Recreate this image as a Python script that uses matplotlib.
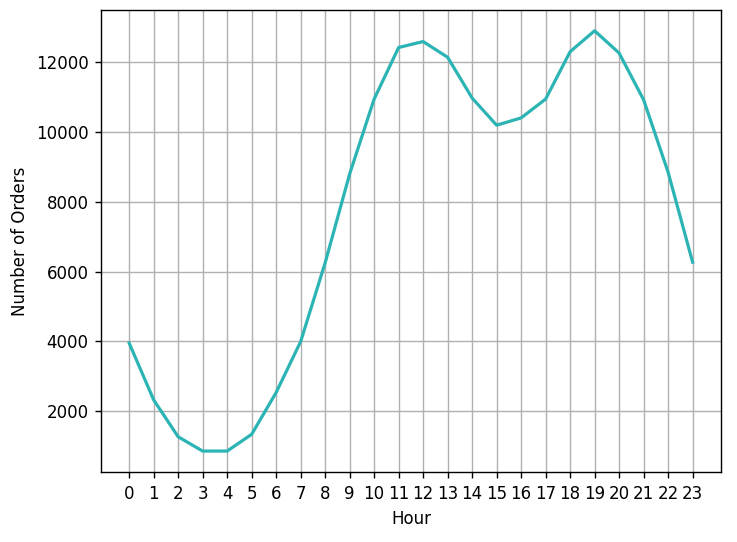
import matplotlib
matplotlib.use("Agg")
import matplotlib.pyplot as plt

hours = list(range(24))
orders = [3950, 2320, 1260, 850, 850, 1330, 2530, 3990, 6250, 8800,
          10950, 12430, 12600, 12150, 10980, 10200, 10410, 10950, 12310, 12910,
          12270, 10930, 8850, 6270]

plt.rcParams['font.size'] = 12
fig = plt.figure(figsize=(7.37, 5.42), dpi=100)
ax = fig.add_axes([0.137, 0.129, 0.841, 0.853])
ax.plot(hours, orders, color='#2cb4b4', linewidth=2.3)
ax.set_xticks(hours)
ax.set_xticklabels([str(h) for h in hours])
ax.set_xlabel('Hour', labelpad=5)
ax.set_ylabel('Number of Orders', labelpad=5)
ax.tick_params(length=4.5, width=1, pad=4.5)
ax.grid(True, color='#b0b0b0', linewidth=1)
for s in ax.spines.values():
    s.set_linewidth(1)
fig.savefig('out.png', dpi=100)
